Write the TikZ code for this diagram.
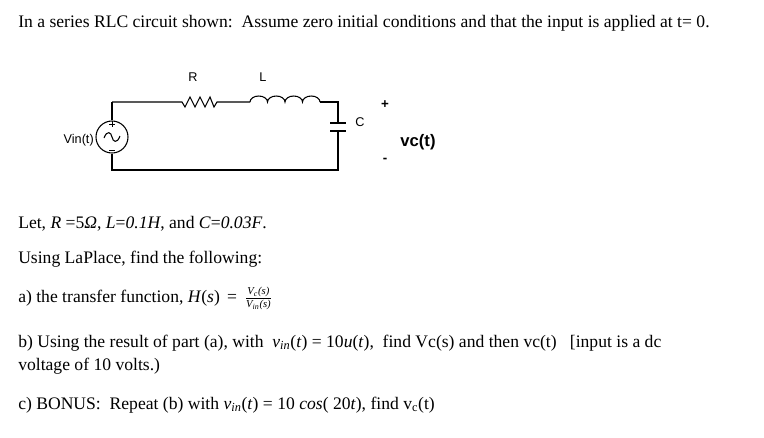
\documentclass[tikz,border=0pt]{standalone}
\usepackage{fontspec}
\setmainfont{Liberation Serif}
\setsansfont{Liberation Sans}
\begin{document}
\begin{tikzpicture}[x=0.75pt,y=-0.75pt,
  txt/.style={anchor=base west,inner sep=0pt,font=\fontsize{13.2}{15}\selectfont},
  lbl/.style={inner sep=0pt,font=\sffamily\fontsize{9.5}{11}\selectfont},
  wire/.style={line width=0.8pt}]
\useasboundingbox (0,0) rectangle (764,437);
% circuit
\coordinate (tl) at (112,102);
\coordinate (bl) at (112,170);
\coordinate (tr) at (338,102);
\coordinate (br) at (338,170);
\node[draw,circle,minimum size=24,line width=0.8pt,inner sep=0pt] (src) at (112,137) {};
\draw[wire] (tl) -- (src.north);
\draw[wire] (src.south) -- (bl) -- (br) -- (338,131);
\draw[wire] (338,123) -- (tr) -- (320,102);
\draw[wire] (330,123) -- (346,123) (330,131) -- (346,131);
\draw[wire] (tl) -- (182,102) -- (185,107) -- (190,97) -- (195,107) -- (200,97) -- (205,107) -- (210,97) -- (214,107) -- (217,102) -- (250,102);
\draw[wire] (250,102) arc (180:360:8.75 and 6) arc (180:360:8.75 and 6) arc (180:360:8.75 and 6) arc (180:360:8.75 and 6);
\draw[wire] (104,138) .. controls (107,130) and (111,132) .. (112,137) .. controls (113,142) and (117,144) .. (120,136);
\draw (109,124) -- (115,124) (112,121) -- (112,127);
\draw (109,150) -- (115,150);
\node[lbl] (rl) at (193,77) {R};
\node[lbl] (ll) at (263,77) {L};
\node[lbl] (cl) at (360,122) {C};
\node[lbl,anchor=east] (vl) at (94,140) {Vin(t)};
\node[inner sep=0pt,font=\sffamily\bfseries\fontsize{10}{11}\selectfont] (pl) at (385,105) {+};
\node[inner sep=0pt,font=\sffamily\bfseries\fontsize{10}{11}\selectfont] (ml) at (385,160) {-};
\node[inner sep=0pt,font=\sffamily\bfseries\fontsize{12.5}{14}\selectfont] (vcl) at (418,142) {vc(t)};
% text
\node[txt] (t1) at (18,27) {In a series RLC circuit shown:\ \ Assume zero initial conditions and that the input is applied at t= 0.};
\node[txt] (t2) at (18,228) {Let, \textit{R} =5\textit{Ω}, \textit{L}=\textit{0.1H}, and \textit{C}=\textit{0.03F}.};
\node[txt] (t3) at (18,263) {Using LaPlace, find the following:};
\node[txt] (t4) at (18,302) {a) the transfer function, \textit{H}(\textit{s}) \,=\, $\frac{\mbox{\footnotesize\itshape V\textsubscript{c}(s)}}{\mbox{\footnotesize\itshape V\textsubscript{in}(s)}}$};
\node[txt] (t5) at (18,347) {b) Using the result of part (a), with \ \textit{v}\textsubscript{\textit{in}}(\textit{t}) = 10\textit{u}(\textit{t}), \ find Vc(s) and then vc(t) \ \ [input is a dc};
\node[txt] (t6) at (18,370) {voltage of 10 volts.)};
\node[txt] (t7) at (18,409) {c) BONUS:\ \ Repeat (b) with \textit{v}\textsubscript{\textit{in}}(\textit{t}) = 10 \textit{cos}( 20\textit{t}), find v\textsubscript{c}(t)};
\end{tikzpicture}
\end{document}
